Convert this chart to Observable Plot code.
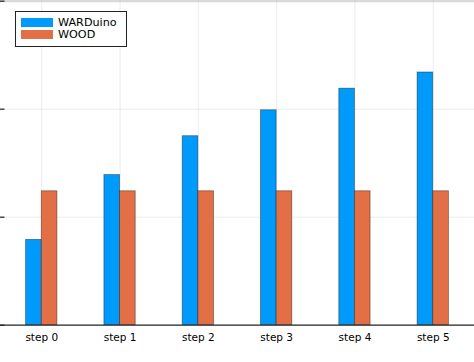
<!DOCTYPE html>
<html>
<head>
<meta charset="utf-8">
<script src="https://cdn.jsdelivr.net/npm/d3@7"></script>
<script src="https://cdn.jsdelivr.net/npm/@observablehq/plot@0.6"></script>
<style>
  html, body { margin: 0; padding: 0; background: #fff; }
  #wrap { position: relative; width: 474px; height: 362px; font-family: "DejaVu Sans", sans-serif; }
  #legend { position: absolute; left: 15px; top: 10.5px; width: 110px; height: 34.5px; border: 1.2px solid #222; background: #fff; }
  .row { position: absolute; left: 5px; height: 11px; display: flex; align-items: center; }
  .sw { width: 32px; height: 8.5px; margin-right: 5px; }
  .lab { font-size: 11.2px; color: #000; line-height: 11px; }
</style>
</head>
<body>
<div id="wrap"></div>
<script>
const steps = ["step 0", "step 1", "step 2", "step 3", "step 4", "step 5"];
const warduino = [0.79, 1.39, 1.75, 1.99, 2.19, 2.34];
const wood = [1.24, 1.24, 1.24, 1.24, 1.24, 1.24];
const seriesNames = ["WARDuino", "WOOD"];
const seriesColors = ["#009AFA", "#E26F46"];
const yTicks = [0, 1, 2, 3];

const rows = [];
steps.forEach((s, i) => {
  rows.push({pos: i + 1, series: seriesNames[0], value: warduino[i], side: -1});
  rows.push({pos: i + 1, series: seriesNames[1], value: wood[i], side: 1});
});
const half = 0.2;

const chart = Plot.plot({
  width: 474,
  height: 362,
  marginLeft: 0,
  marginRight: 0,
  marginTop: 0.7,
  marginBottom: 37.3,
  style: {fontFamily: "DejaVu Sans, sans-serif", background: "#fff"},
  x: {type: "linear", domain: [0.473, 6.527], axis: null},
  y: {domain: [0, 3], axis: null},
  color: {domain: seriesNames, range: seriesColors},
  marks: [
    Plot.gridX(d3.range(1, steps.length + 1), {stroke: "#000", strokeOpacity: 0.1, strokeWidth: 0.8}),
    Plot.gridY([1, 2], {stroke: "#000", strokeOpacity: 0.1, strokeWidth: 0.8}),
    Plot.gridY([3], {stroke: "#000", strokeOpacity: 0.15, strokeWidth: 2.2}),
    Plot.rectY(rows, {
      x1: d => d.side < 0 ? d.pos - half : d.pos,
      x2: d => d.side < 0 ? d.pos : d.pos + half,
      y1: 0,
      y2: "value",
      fill: "series",
      stroke: "#000",
      strokeOpacity: 0.45,
      strokeWidth: 0.8
    }),
    Plot.ruleY([0], {stroke: "#222", strokeWidth: 1.2}),
    Plot.axisY({ticks: yTicks, tickSize: -4.5, fill: "none", stroke: "#222", strokeWidth: 1.2}),
    Plot.axisX({ticks: d3.range(1, steps.length + 1), tickFormat: d => steps[d - 1], tickSize: 0, tickPadding: 8, fontSize: 10.5, fill: "#000"})
  ]
});

const wrap = document.getElementById("wrap");
wrap.appendChild(chart);

const legend = document.createElement("div");
legend.id = "legend";
seriesNames.forEach((name, i) => {
  const r = document.createElement("div");
  r.className = "row";
  r.style.top = (5.5 + i * 12.2) + "px";
  const sw = document.createElement("div");
  sw.className = "sw";
  sw.style.background = seriesColors[i];
  const lab = document.createElement("span");
  lab.className = "lab";
  lab.textContent = name;
  r.appendChild(sw);
  r.appendChild(lab);
  legend.appendChild(r);
});
wrap.appendChild(legend);
</script>
</body>
</html>
